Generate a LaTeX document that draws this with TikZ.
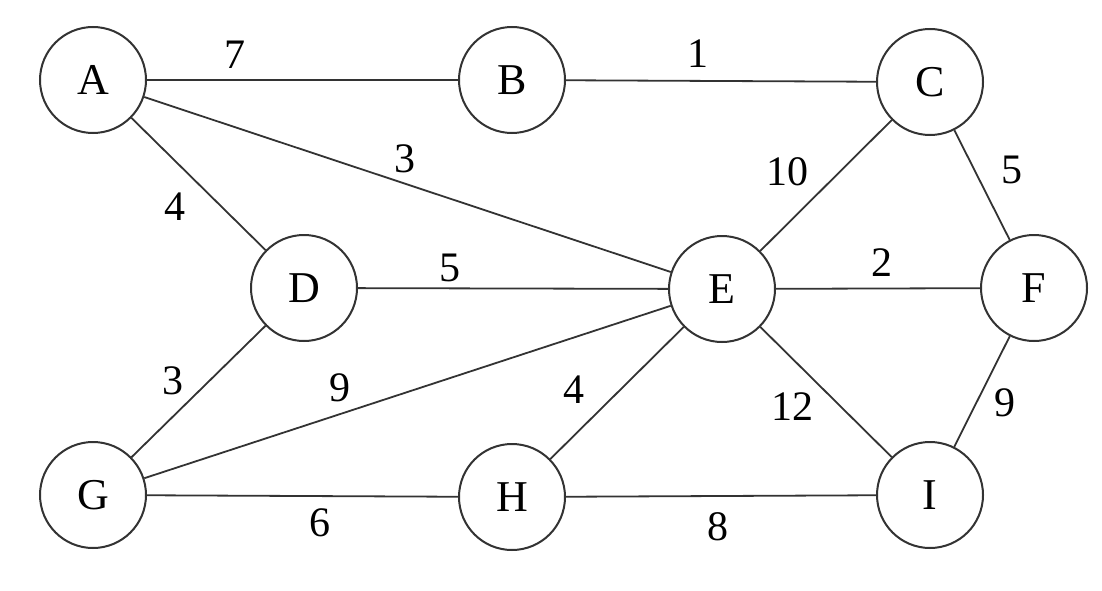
\documentclass[tikz,border=0pt]{standalone}
\usepackage{fontspec}
\setmainfont{Liberation Serif}
\begin{document}
\begin{tikzpicture}[x=1pt,y=-1pt,
  vert/.style={circle,draw=black!80,line width=2pt,minimum size=106pt,inner sep=0pt,font=\fontsize{44}{44}\selectfont},
  edge/.style={draw=black!80,line width=1.8pt},
  wt/.style={font=\fontsize{42}{42}\selectfont,inner sep=0pt}]
\useasboundingbox (0,0) rectangle (1102,591);
\node[vert] (A) at (93,80) {A};
\node[vert] (B) at (512,80) {B};
\node[vert] (C) at (930,82) {C};
\node[vert] (D) at (304,288) {D};
\node[vert] (E) at (722,289) {E};
\node[vert] (F) at (1034,288) {F};
\node[vert] (G) at (93,495) {G};
\node[vert] (H) at (512,497) {H};
\node[vert] (I) at (930,495) {I};
\draw[edge] (A) -- (B);
\draw[edge] (B) -- (C);
\draw[edge] (A) -- (E);
\draw[edge] (A) -- (D);
\draw[edge] (E) -- (C);
\draw[edge] (C) -- (F);
\draw[edge] (D) -- (E);
\draw[edge] (E) -- (F);
\draw[edge] (D) -- (G);
\draw[edge] (G) -- (E);
\draw[edge] (H) -- (E);
\draw[edge] (E) -- (I);
\draw[edge] (F) -- (I);
\draw[edge] (G) -- (H);
\draw[edge] (H) -- (I);
\node[wt] (w1) at (235,55) {7};
\node[wt] (w2) at (698,54) {1};
\node[wt] (w3) at (405,159) {3};
\node[wt] (w4) at (175,207) {4};
\node[wt] (w5) at (787,172) {10};
\node[wt] (w6) at (1012,170) {5};
\node[wt] (w7) at (450,268) {5};
\node[wt] (w8) at (882,263) {2};
\node[wt] (w9) at (173,381) {3};
\node[wt] (w10) at (340,388) {9};
\node[wt] (w11) at (574,390) {4};
\node[wt] (w12) at (792,407) {12};
\node[wt] (w13) at (1005,403) {9};
\node[wt] (w14) at (320,523) {6};
\node[wt] (w15) at (718,527) {8};
\end{tikzpicture}
\end{document}
